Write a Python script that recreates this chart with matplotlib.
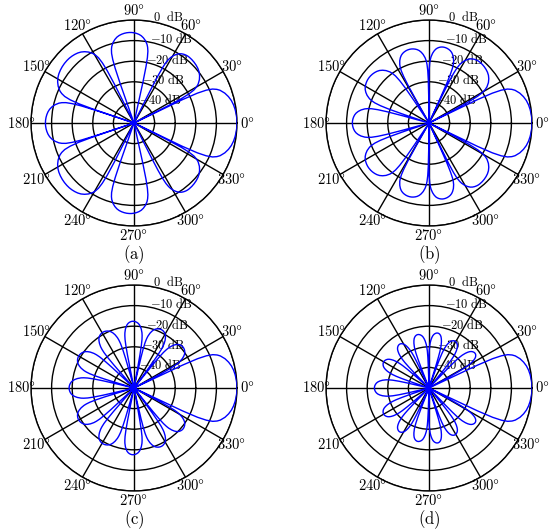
import numpy as np
import matplotlib
matplotlib.use("Agg")
import matplotlib.pyplot as plt

plt.rcParams["mathtext.fontset"] = "cm"

FLOOR_DB = -50
RINGS = [-40, -30, -20, -10, 0]
RING_LABELS = [r"$-40\ \mathrm{dB}$", r"$-30\ \mathrm{dB}$", r"$-20\ \mathrm{dB}$",
               r"$-10\ \mathrm{dB}$", r"$0\ \ \mathrm{dB}$"]
THETA_TICKS = list(range(0, 360, 30))
THETA_LABELS = [r"$%d\degree$" % t for t in THETA_TICKS]
PANEL_TAGS = ["(a)", "(b)", "(c)", "(d)"]

# petal profile. u = fraction of the way from a lobe's
# null to its peak, drop = how many dB the curve sits below the peak there
LOBE_U = [0, 0.01, 0.03, 0.06, 0.1, 0.15, 0.2, 0.3, 0.4, 0.5, 0.6, 0.7, 0.8, 0.9, 1.0]
LOBE_DROP = [60, 24, 16, 11.5, 8.5, 6.6, 5.3, 3.6, 2.4, 1.5, 0.9, 0.5, 0.22, 0.05, 0]

# per lobe: lower null, upper null, peak direction (deg) and peak level (dB)
LO_A = [-26, 26.5, 77.5, 116.5, 161.5, 198.5, 250.5, 296.5]
HI_A = [26, 63.5, 109.5, 161.5, 198.5, 243.5, 282.5, 333.5]
PEAK_DEG_A = [0, 50, 93, 137, 180, 223, 267, 310]
PEAK_DB_A = [0, -8.3, -6, -5.5, -7, -5.5, -6, -8.3]

LO_B = [-26, 27.5, 65.5, 90.5, 123.5, 164.5, 198.5, 240.5, 269.5, 295.5]
HI_B = [26, 64.5, 90.5, 119.5, 161.5, 195.5, 236.5, 269.5, 294.5, 332.5]
PEAK_DEG_B = [0, 50, 79, 105, 143, 180, 217, 255, 281, 310]
PEAK_DB_B = [0, -11.5, -12.5, -13, -13.5, -12.8, -13.5, -13, -12.5, -11.5]

LO_C = [-25.5, 27.5, 53.5, 79.5, 105.5, 136.5, 166.5, 196.5, 228.5, 258.5, 282.5, 308.5]
HI_C = [25.5, 51.5, 77.5, 101.5, 131.5, 163.5, 193.5, 223.5, 254.5, 280.5, 306.5, 332.5]
PEAK_DEG_C = [0, 40, 65, 91, 119, 150, 180, 210, 241, 269, 295, 320]
PEAK_DB_C = [0, -19, -18.7, -17.6, -19, -19, -18.5, -19, -19, -17.6, -18.7, -19]

LO_D = [-25.5, 28.5, 50.5, 72.5, 91.5, 114.5, 138.5, 166.5,
        198.5, 225.5, 248.5, 269.5, 289.5, 313.5]
HI_D = [25.5, 46.5, 70.5, 90.5, 111.5, 134.5, 161.5, 193.5,
        221.5, 245.5, 268.5, 287.5, 309.5, 331.5]
PEAK_DEG_D = [0, 37, 61, 81, 102, 124, 150, 180, 210, 236, 258, 279, 299, 323]
PEAK_DB_D = [0, -22, -24, -23, -23.5, -24.4, -24.6, -23.5,
             -24.6, -24.4, -23.5, -23, -24, -22]

PANELS = [(LO_A, HI_A, PEAK_DEG_A, PEAK_DB_A), (LO_B, HI_B, PEAK_DEG_B, PEAK_DB_B),
          (LO_C, HI_C, PEAK_DEG_C, PEAK_DB_C), (LO_D, HI_D, PEAK_DEG_D, PEAK_DB_D)]


def pattern(lo_deg, hi_deg, peak_deg, peak_db):
    u = np.array(LOBE_U)
    drop = np.array(LOBE_DROP)
    th, r = [], []
    for lo, hi, pk, lvl in zip(lo_deg, hi_deg, peak_deg, peak_db):
        rise = lo + u * (pk - lo)
        fall = (hi - u * (hi - pk))[::-1]
        vals = lvl - drop
        th += list(rise) + list(fall[1:])
        r += list(vals) + list(vals[::-1][1:])
    th.append(th[0])
    r.append(r[0])
    return np.deg2rad(th), np.maximum(r, FLOOR_DB)


W, H = 550, 530
R = 103
CENTERS = [(134, 123), (429, 123), (134, 388), (429, 388)]

fig = plt.figure(figsize=(W / 100, H / 100), dpi=100)
for k, ((cx, cy), data) in enumerate(zip(CENTERS, PANELS)):
    ax = fig.add_axes([(cx - R) / W, (H - cy - R) / H, 2 * R / W, 2 * R / H],
                      projection="polar")
    th, r = pattern(*data)
    ax.plot(th, r, color="#0000ff", lw=1.0, zorder=3)
    ax.set_rlim(FLOOR_DB, 0)
    ax.set_rticks(RINGS)
    ax.set_yticklabels([])
    ax.set_thetagrids(THETA_TICKS, THETA_LABELS, fontsize=10.5)
    ax.tick_params(axis="x", pad=0, length=0)
    ax.grid(True, color="k", lw=1.0, ls="-")
    ax.spines["polar"].set_linewidth(1.0)
    for v, lab in zip(RINGS, RING_LABELS):
        rho = 0.5 * (v - FLOOR_DB) / (-FLOOR_DB)
        dy = 0.022 if v == 0 else 0.012
        ax.text(0.5 + rho * np.cos(np.deg2rad(80)) + 0.006,
                0.5 + rho * np.sin(np.deg2rad(80)) + dy, lab,
                transform=ax.transAxes, ha="left", va="center",
                fontsize=9, zorder=2.5)
    fig.text(cx / W, 1 - (cy + 132) / H, r"$\mathrm{%s}$" % PANEL_TAGS[k],
             ha="center", va="center", fontsize=12)

fig.savefig("out.png", dpi=100, facecolor="white")
